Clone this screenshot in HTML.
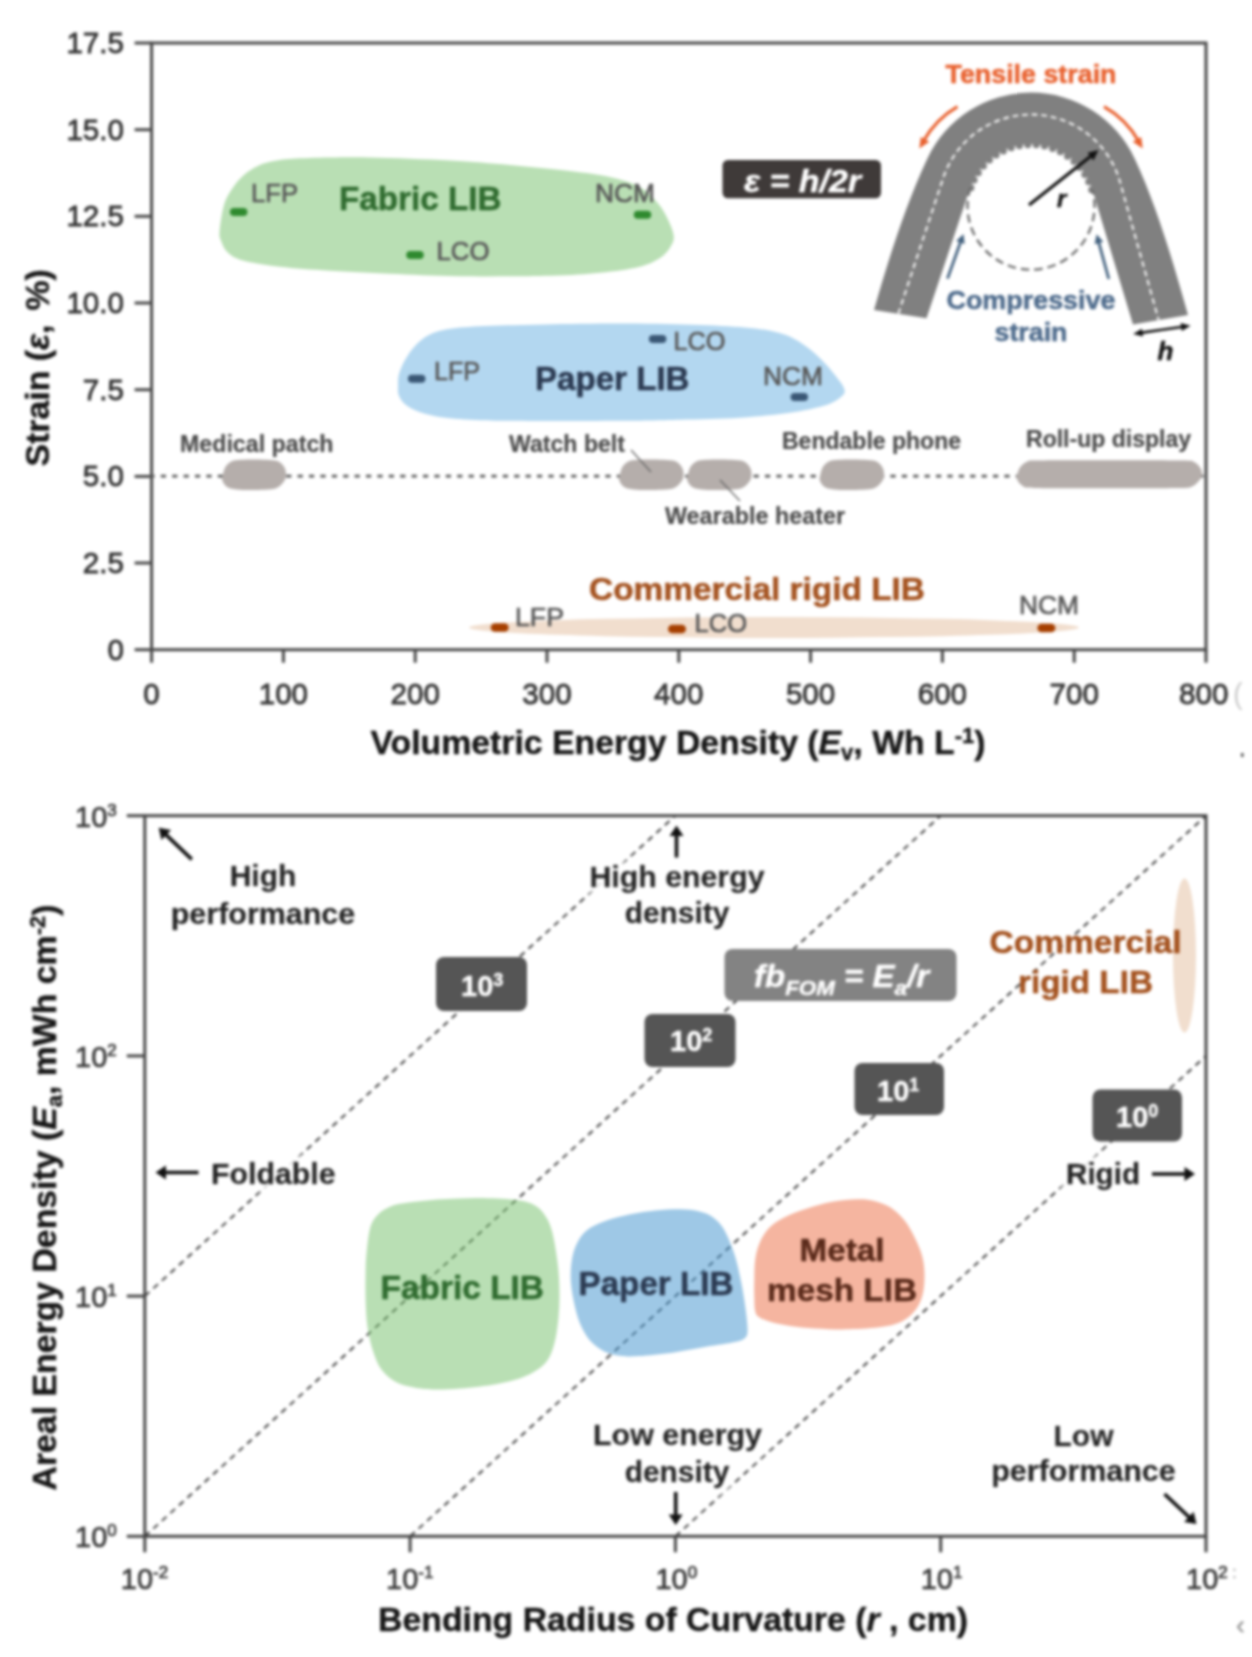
<!DOCTYPE html>
<html><head><meta charset="utf-8"><title>Flexible LIB strain and figure of merit charts</title>
<style>
html,body{margin:0;padding:0;background:#fff;}
body{width:1252px;height:1657px;overflow:hidden;font-family:"Liberation Sans", sans-serif;}
svg{display:block;font-family:"Liberation Sans", sans-serif;filter:blur(1.35px);}
</style></head><body>
<svg width="1252" height="1657" viewBox="0 0 1252 1657">
<defs><filter id="halo" x="-15%" y="-50%" width="130%" height="200%"><feMorphology in="SourceAlpha" operator="dilate" radius="6" result="d"/><feGaussianBlur in="d" stdDeviation="2.5" result="b"/><feFlood flood-color="#fff" flood-opacity="0.85"/><feComposite in2="b" operator="in" result="h"/><feMerge><feMergeNode in="h"/><feMergeNode in="SourceGraphic"/></feMerge></filter></defs>
<rect width="1252" height="1657" fill="#fff"/>
<rect x="151.6" y="43" width="1054.4" height="606.7" fill="none" stroke="#484848" stroke-width="3"/>
<line x1="134.6" y1="43.0" x2="151.6" y2="43.0" stroke="#484848" stroke-width="3"/>
<text x="124" y="53.0" font-size="29.6" font-weight="normal" fill="#333" text-anchor="end" font-style="normal" stroke="#333" stroke-width="0.8">17.5</text>
<line x1="134.6" y1="129.7" x2="151.6" y2="129.7" stroke="#484848" stroke-width="3"/>
<text x="124" y="139.7" font-size="29.6" font-weight="normal" fill="#333" text-anchor="end" font-style="normal" stroke="#333" stroke-width="0.8">15.0</text>
<line x1="134.6" y1="216.3" x2="151.6" y2="216.3" stroke="#484848" stroke-width="3"/>
<text x="124" y="226.3" font-size="29.6" font-weight="normal" fill="#333" text-anchor="end" font-style="normal" stroke="#333" stroke-width="0.8">12.5</text>
<line x1="134.6" y1="303.0" x2="151.6" y2="303.0" stroke="#484848" stroke-width="3"/>
<text x="124" y="313.0" font-size="29.6" font-weight="normal" fill="#333" text-anchor="end" font-style="normal" stroke="#333" stroke-width="0.8">10.0</text>
<line x1="134.6" y1="389.7" x2="151.6" y2="389.7" stroke="#484848" stroke-width="3"/>
<text x="124" y="399.7" font-size="29.6" font-weight="normal" fill="#333" text-anchor="end" font-style="normal" stroke="#333" stroke-width="0.8">7.5</text>
<line x1="134.6" y1="476.4" x2="151.6" y2="476.4" stroke="#484848" stroke-width="3"/>
<text x="124" y="486.4" font-size="29.6" font-weight="normal" fill="#333" text-anchor="end" font-style="normal" stroke="#333" stroke-width="0.8">5.0</text>
<line x1="134.6" y1="563.0" x2="151.6" y2="563.0" stroke="#484848" stroke-width="3"/>
<text x="124" y="573.0" font-size="29.6" font-weight="normal" fill="#333" text-anchor="end" font-style="normal" stroke="#333" stroke-width="0.8">2.5</text>
<line x1="134.6" y1="649.7" x2="151.6" y2="649.7" stroke="#484848" stroke-width="3"/>
<text x="124" y="659.7" font-size="29.6" font-weight="normal" fill="#333" text-anchor="end" font-style="normal" stroke="#333" stroke-width="0.8">0</text>
<line x1="151.6" y1="649.7" x2="151.6" y2="662.7" stroke="#484848" stroke-width="3"/>
<text x="151.6" y="703.8" font-size="29.6" font-weight="normal" fill="#333" text-anchor="middle" font-style="normal" stroke="#333" stroke-width="0.8">0</text>
<line x1="283.4" y1="649.7" x2="283.4" y2="662.7" stroke="#484848" stroke-width="3"/>
<text x="283.4" y="703.8" font-size="29.6" font-weight="normal" fill="#333" text-anchor="middle" font-style="normal" stroke="#333" stroke-width="0.8">100</text>
<line x1="415.2" y1="649.7" x2="415.2" y2="662.7" stroke="#484848" stroke-width="3"/>
<text x="415.2" y="703.8" font-size="29.6" font-weight="normal" fill="#333" text-anchor="middle" font-style="normal" stroke="#333" stroke-width="0.8">200</text>
<line x1="547.0" y1="649.7" x2="547.0" y2="662.7" stroke="#484848" stroke-width="3"/>
<text x="547.0" y="703.8" font-size="29.6" font-weight="normal" fill="#333" text-anchor="middle" font-style="normal" stroke="#333" stroke-width="0.8">300</text>
<line x1="678.8" y1="649.7" x2="678.8" y2="662.7" stroke="#484848" stroke-width="3"/>
<text x="678.8" y="703.8" font-size="29.6" font-weight="normal" fill="#333" text-anchor="middle" font-style="normal" stroke="#333" stroke-width="0.8">400</text>
<line x1="810.6" y1="649.7" x2="810.6" y2="662.7" stroke="#484848" stroke-width="3"/>
<text x="810.6" y="703.8" font-size="29.6" font-weight="normal" fill="#333" text-anchor="middle" font-style="normal" stroke="#333" stroke-width="0.8">500</text>
<line x1="942.4" y1="649.7" x2="942.4" y2="662.7" stroke="#484848" stroke-width="3"/>
<text x="942.4" y="703.8" font-size="29.6" font-weight="normal" fill="#333" text-anchor="middle" font-style="normal" stroke="#333" stroke-width="0.8">600</text>
<line x1="1074.2" y1="649.7" x2="1074.2" y2="662.7" stroke="#484848" stroke-width="3"/>
<text x="1074.2" y="703.8" font-size="29.6" font-weight="normal" fill="#333" text-anchor="middle" font-style="normal" stroke="#333" stroke-width="0.8">700</text>
<line x1="1206.0" y1="649.7" x2="1206.0" y2="662.7" stroke="#484848" stroke-width="3"/>
<text x="1179" y="703.8" font-size="29.6" font-weight="normal" fill="#333" text-anchor="start" font-style="normal" textLength="49.5" lengthAdjust="spacingAndGlyphs" stroke="#333" stroke-width="0.8">800</text>
<text x="1233" y="703.5" font-size="29" font-weight="normal" fill="#ccc" text-anchor="start" font-style="normal" stroke="none">(</text>
<line x1="149.4" y1="476.2" x2="1206" y2="476.2" stroke="#585858" stroke-width="2.8" stroke-dasharray="5.2 6.2"/>
<text transform="translate(49.3,466.5) rotate(-90)" font-size="33.8" font-weight="bold" fill="#161616" stroke="#161616" stroke-width="0.4" >Strain (<tspan font-style="italic">ε</tspan>, <tspan dx="4.5">%)</tspan></text>
<text x="370.5" y="753.5" font-size="33.8" font-weight="bold" fill="#161616" stroke="#161616" stroke-width="0.4" textLength="615" lengthAdjust="spacingAndGlyphs">Volumetric Energy Density (<tspan font-style="italic">E</tspan><tspan font-size="22" dy="6">v</tspan><tspan dy="-6">, Wh L</tspan><tspan font-size="22" dy="-11">-1</tspan><tspan dy="11">)</tspan></text>
<path d="M219.6,230.9 C220.1,224.9 221.9,211.9 224.0,204.9 C226.1,197.9 228.7,193.9 232.0,188.9 C235.3,183.9 239.2,179.0 243.9,175.0 C248.6,171.0 253.9,167.5 259.9,165.0 C265.9,162.5 271.6,161.2 279.9,160.0 C288.2,158.8 294.8,158.4 309.8,158.0 C324.8,157.6 346.3,157.0 369.7,157.4 C393.1,157.8 426.6,159.2 450.0,160.5 C473.4,161.8 489.9,163.2 509.9,165.0 C529.9,166.8 553.2,169.0 569.8,171.0 C586.4,173.0 598.1,174.3 609.7,177.0 C621.4,179.7 631.7,182.6 639.7,186.9 C647.7,191.2 653.0,197.6 657.7,202.9 C662.4,208.2 665.1,213.6 667.7,218.9 C670.4,224.2 673.0,230.6 673.6,234.9 C674.2,239.2 673.6,241.2 671.6,244.8 C669.6,248.5 667.0,253.1 661.7,256.8 C656.4,260.5 650.0,264.1 639.7,266.8 C629.4,269.5 614.8,271.3 599.8,272.8 C584.8,274.3 573.2,275.2 549.8,275.8 C526.4,276.4 486.3,276.6 459.6,276.3 C432.9,276.0 411.3,274.7 389.7,273.8 C368.1,272.9 348.1,272.0 329.8,270.8 C311.5,269.6 294.2,268.5 279.9,266.8 C265.6,265.1 252.6,263.1 243.9,260.8 C235.2,258.5 231.8,256.1 228.0,252.8 C224.2,249.5 222.4,244.5 221.0,240.8 C219.6,237.2 219.1,236.9 219.6,230.9 Z" fill="#b9dfb4"/>
<rect x="229.95" y="207.9" width="17.5" height="8" rx="4.0" fill="#2f8a2f"/>
<rect x="406.25" y="251.0" width="17.5" height="8" rx="4.0" fill="#2f8a2f"/>
<rect x="633.75" y="210.7" width="17.5" height="8" rx="4.0" fill="#2f8a2f"/>
<text x="251" y="202" font-size="26" font-weight="normal" fill="#585858" text-anchor="start" font-style="normal" textLength="47" lengthAdjust="spacingAndGlyphs" stroke="#585858" stroke-width="0.7">LFP</text>
<text x="436.5" y="260" font-size="26" font-weight="normal" fill="#585858" text-anchor="start" font-style="normal" textLength="53" lengthAdjust="spacingAndGlyphs" stroke="#585858" stroke-width="0.7">LCO</text>
<text x="595" y="202" font-size="26" font-weight="normal" fill="#585858" text-anchor="start" font-style="normal" textLength="60" lengthAdjust="spacingAndGlyphs" stroke="#585858" stroke-width="0.7">NCM</text>
<text x="339" y="210" font-size="33" font-weight="bold" fill="#2f6b2f" text-anchor="start" font-style="normal" stroke="#2f6b2f" stroke-width="0.5" textLength="162.5" lengthAdjust="spacingAndGlyphs" >Fabric LIB</text>
<path d="M398.0,385.9 C398.0,382.2 397.8,378.2 399.0,373.9 C400.2,369.6 402.3,364.6 405.0,359.9 C407.7,355.2 411.0,350.0 415.0,345.9 C419.0,341.8 423.2,337.8 428.9,335.0 C434.5,332.2 439.6,330.5 448.9,329.0 C458.2,327.5 468.8,326.8 484.8,326.0 C500.8,325.2 521.0,324.8 544.7,324.4 C568.4,324.0 601.1,323.5 627.0,323.6 C652.9,323.7 679.4,324.3 699.9,325.0 C720.4,325.7 736.5,326.7 749.8,328.0 C763.1,329.3 771.4,330.7 779.7,333.0 C788.0,335.3 793.0,337.9 799.7,342.0 C806.4,346.1 813.7,352.2 819.7,357.9 C825.7,363.5 831.6,370.6 835.7,375.9 C839.9,381.2 843.9,386.2 844.6,389.9 C845.3,393.6 843.2,395.2 839.7,397.9 C836.2,400.5 832.0,403.3 823.7,405.8 C815.4,408.3 803.7,410.8 789.7,412.8 C775.7,414.8 758.1,416.6 739.8,417.8 C721.5,419.0 698.7,419.3 679.9,419.8 C661.1,420.3 656.2,420.6 627.0,420.8 C597.8,421.0 533.5,421.1 504.8,420.8 C476.1,420.5 468.2,420.0 454.9,418.8 C441.6,417.6 432.9,416.0 424.9,413.8 C416.9,411.6 411.3,408.8 407.0,405.8 C402.7,402.8 400.5,399.2 399.0,395.9 C397.5,392.6 398.0,389.6 398.0,385.9 Z" fill="#b3d7f0"/>
<rect x="407.95" y="374.7" width="17.5" height="8" rx="4.0" fill="#3a5775"/>
<rect x="648.85" y="335.0" width="17.5" height="8" rx="4.0" fill="#3a5775"/>
<rect x="790.55" y="393.0" width="17.5" height="8" rx="4.0" fill="#3a5775"/>
<text x="434" y="380" font-size="26" font-weight="normal" fill="#585858" text-anchor="start" font-style="normal" textLength="46" lengthAdjust="spacingAndGlyphs" stroke="#585858" stroke-width="0.7">LFP</text>
<text x="673.5" y="350" font-size="26" font-weight="normal" fill="#585858" text-anchor="start" font-style="normal" textLength="52" lengthAdjust="spacingAndGlyphs" stroke="#585858" stroke-width="0.7">LCO</text>
<text x="763" y="385" font-size="26" font-weight="normal" fill="#585858" text-anchor="start" font-style="normal" textLength="60" lengthAdjust="spacingAndGlyphs" stroke="#585858" stroke-width="0.7">NCM</text>
<text x="535" y="390" font-size="33" font-weight="bold" fill="#2b3a52" text-anchor="start" font-style="normal" stroke="#2b3a52" stroke-width="0.5" textLength="154.5" lengthAdjust="spacingAndGlyphs" >Paper LIB</text>
<path d="M233.0,460.7 C236.0,459.6 240.5,459.9 244.0,459.7 C247.5,459.5 250.3,459.5 254.0,459.5 C257.7,459.5 262.0,459.5 266.0,459.8 C270.0,460.1 274.9,460.0 278.0,461.3 C281.1,462.6 283.2,465.2 284.5,467.5 C285.8,469.8 286.2,472.9 286.0,475.4 C285.8,477.8 285.2,479.9 283.5,482.0 C281.8,484.1 279.6,486.9 276.0,488.2 C272.4,489.5 265.7,489.5 262.0,489.8 C258.3,490.1 257.7,490.0 254.0,490.0 C250.3,490.0 244.3,490.1 240.0,489.7 C235.7,489.3 230.9,488.9 228.0,487.5 C225.1,486.1 223.4,483.1 222.5,481.0 C221.6,478.9 222.2,477.2 222.8,474.8 C223.4,472.2 224.3,468.3 226.0,466.0 C227.7,463.7 230.0,461.8 233.0,460.7 Z" fill="#b5aeab"/>
<path d="M630.0,460.7 C633.0,459.6 637.5,459.9 641.0,459.7 C644.5,459.5 647.5,459.5 651.2,459.5 C655.0,459.5 659.5,459.5 663.5,459.8 C667.5,460.1 672.4,460.0 675.5,461.3 C678.6,462.6 680.7,465.2 682.0,467.5 C683.3,469.8 683.7,472.9 683.5,475.4 C683.3,477.8 682.7,479.9 681.0,482.0 C679.3,484.1 677.1,486.9 673.5,488.2 C669.9,489.5 663.2,489.5 659.5,489.8 C655.8,490.1 655.0,490.0 651.2,490.0 C647.5,490.0 641.4,490.1 637.0,489.7 C632.6,489.3 627.9,488.9 625.0,487.5 C622.1,486.1 620.4,483.1 619.5,481.0 C618.6,478.9 619.2,477.2 619.8,474.8 C620.4,472.2 621.3,468.3 623.0,466.0 C624.7,463.7 627.0,461.8 630.0,460.7 Z" fill="#b5aeab"/>
<path d="M698.0,460.7 C701.0,459.6 705.5,459.9 709.0,459.7 C712.5,459.5 715.5,459.5 719.2,459.5 C723.0,459.5 727.5,459.5 731.5,459.8 C735.5,460.1 740.4,460.0 743.5,461.3 C746.6,462.6 748.7,465.2 750.0,467.5 C751.3,469.8 751.7,472.9 751.5,475.4 C751.3,477.8 750.7,479.9 749.0,482.0 C747.3,484.1 745.1,486.9 741.5,488.2 C737.9,489.5 731.2,489.5 727.5,489.8 C723.8,490.1 723.0,490.0 719.2,490.0 C715.5,490.0 709.4,490.1 705.0,489.7 C700.6,489.3 695.9,488.9 693.0,487.5 C690.1,486.1 688.4,483.1 687.5,481.0 C686.6,478.9 687.2,477.2 687.8,474.8 C688.4,472.2 689.3,468.3 691.0,466.0 C692.7,463.7 695.0,461.8 698.0,460.7 Z" fill="#b5aeab"/>
<path d="M830.5,460.7 C833.5,459.6 838.0,459.9 841.5,459.7 C845.0,459.5 848.0,459.5 851.8,459.5 C855.5,459.5 860.0,459.5 864.0,459.8 C868.0,460.1 872.9,460.0 876.0,461.3 C879.1,462.6 881.2,465.2 882.5,467.5 C883.8,469.8 884.2,472.9 884.0,475.4 C883.8,477.8 883.2,479.9 881.5,482.0 C879.8,484.1 877.6,486.9 874.0,488.2 C870.4,489.5 863.7,489.5 860.0,489.8 C856.3,490.1 855.5,490.0 851.8,490.0 C848.0,490.0 841.9,490.1 837.5,489.7 C833.1,489.3 828.4,488.9 825.5,487.5 C822.6,486.1 820.9,483.1 820.0,481.0 C819.1,478.9 819.7,477.2 820.3,474.8 C820.9,472.2 821.8,468.3 823.5,466.0 C825.2,463.7 827.5,461.8 830.5,460.7 Z" fill="#b5aeab"/>
<path d="M1027.5,461.5 C1030.5,460.4 1024.9,460.7 1038.5,460.5 C1052.1,460.3 1085.3,460.3 1109.2,460.3 C1133.2,460.3 1167.9,460.3 1182.0,460.6 C1196.1,460.9 1190.9,460.8 1194.0,462.1 C1197.1,463.4 1199.2,466.2 1200.5,468.3 C1201.8,470.4 1202.2,472.8 1202.0,474.8 C1201.8,476.8 1201.2,478.3 1199.5,480.2 C1197.8,482.1 1195.6,485.1 1192.0,486.4 C1188.4,487.7 1191.8,487.7 1178.0,488.0 C1164.2,488.3 1133.2,488.2 1109.2,488.2 C1085.3,488.2 1049.0,488.3 1034.5,487.9 C1020.0,487.5 1025.4,487.1 1022.5,485.7 C1019.6,484.2 1017.9,481.1 1017.0,479.2 C1016.1,477.3 1016.7,476.3 1017.3,474.2 C1017.9,472.2 1018.8,468.9 1020.5,466.8 C1022.2,464.7 1024.5,462.6 1027.5,461.5 Z" fill="#b5aeab"/>
<text x="180" y="451.5" font-size="23" font-weight="bold" fill="#4a4a4a" text-anchor="start" font-style="normal" textLength="153.5" lengthAdjust="spacingAndGlyphs" stroke="#4a4a4a" stroke-width="0.2">Medical patch</text>
<text x="509" y="451.5" font-size="23" font-weight="bold" fill="#4a4a4a" text-anchor="start" font-style="normal" textLength="116" lengthAdjust="spacingAndGlyphs" stroke="#4a4a4a" stroke-width="0.2">Watch belt</text>
<text x="782" y="448.5" font-size="23" font-weight="bold" fill="#4a4a4a" text-anchor="start" font-style="normal" textLength="179" lengthAdjust="spacingAndGlyphs" stroke="#4a4a4a" stroke-width="0.2">Bendable phone</text>
<text x="1026" y="447" font-size="23" font-weight="bold" fill="#4a4a4a" text-anchor="start" font-style="normal" textLength="165" lengthAdjust="spacingAndGlyphs" stroke="#4a4a4a" stroke-width="0.2">Roll-up display</text>
<text x="665" y="524" font-size="23" font-weight="bold" fill="#4a4a4a" text-anchor="start" font-style="normal" textLength="180" lengthAdjust="spacingAndGlyphs" stroke="#4a4a4a" stroke-width="0.2">Wearable heater</text>
<line x1="631" y1="450" x2="651" y2="472" stroke="#666" stroke-width="1.3"/>
<line x1="720" y1="480" x2="740" y2="501" stroke="#666" stroke-width="1.3"/>
<ellipse cx="774" cy="627.5" rx="305" ry="10.4" fill="#f1dece"/>
<rect x="490.7" y="623.25" width="18" height="8.5" rx="4.25" fill="#a63f00"/>
<rect x="668.0" y="624.75" width="18" height="8.5" rx="4.25" fill="#a63f00"/>
<rect x="1037.4" y="623.85" width="18" height="8.5" rx="4.25" fill="#a63f00"/>
<text x="515" y="626" font-size="26" font-weight="normal" fill="#585858" text-anchor="start" font-style="normal" textLength="49" lengthAdjust="spacingAndGlyphs" stroke="#585858" stroke-width="0.7">LFP</text>
<text x="694.5" y="632" font-size="26" font-weight="normal" fill="#585858" text-anchor="start" font-style="normal" textLength="52.5" lengthAdjust="spacingAndGlyphs" stroke="#585858" stroke-width="0.7">LCO</text>
<text x="1019" y="614" font-size="26" font-weight="normal" fill="#585858" text-anchor="start" font-style="normal" textLength="60" lengthAdjust="spacingAndGlyphs" stroke="#585858" stroke-width="0.7">NCM</text>
<text x="589" y="600" font-size="32" font-weight="bold" fill="#a4521f" text-anchor="start" font-style="normal" stroke="#a4521f" stroke-width="0.5" textLength="336" lengthAdjust="spacingAndGlyphs" >Commercial rigid LIB</text>
<rect x="722.5" y="160" width="158.5" height="38.3" rx="5.5" fill="#3f3a39"/>
<text x="802.5" y="191.5" font-size="32" font-weight="bold" font-style="italic" fill="#fff" stroke="#fff" stroke-width="0.4" text-anchor="middle" textLength="117" lengthAdjust="spacingAndGlyphs">ε = h/2r</text>
<path d="M874,310 C888.6,259.1 904.9,206.7 927.3,158.7 A114.4,114.4 0 0 1 1134.7,158.7 C1157.1,206.7 1173.7,264.0 1188,315 L1133,324.4 L1092.3,189.5 A64,64 0 0 0 970.3,187.6 L926.5,318.2 Z" fill="#808080"/>
<circle cx="970.9" cy="187.8" r="3.5" fill="#808080"/>
<circle cx="974.1" cy="180.0" r="3.5" fill="#808080"/>
<circle cx="978.3" cy="172.7" r="3.5" fill="#808080"/>
<circle cx="983.4" cy="166.1" r="3.5" fill="#808080"/>
<circle cx="989.4" cy="160.1" r="3.5" fill="#808080"/>
<circle cx="996.1" cy="155.1" r="3.5" fill="#808080"/>
<circle cx="1003.4" cy="150.9" r="3.5" fill="#808080"/>
<circle cx="1011.2" cy="147.8" r="3.5" fill="#808080"/>
<circle cx="1019.4" cy="145.7" r="3.5" fill="#808080"/>
<circle cx="1027.8" cy="144.7" r="3.5" fill="#808080"/>
<circle cx="1036.2" cy="144.8" r="3.5" fill="#808080"/>
<circle cx="1044.5" cy="146.1" r="3.5" fill="#808080"/>
<circle cx="1052.6" cy="148.4" r="3.5" fill="#808080"/>
<circle cx="1060.3" cy="151.8" r="3.5" fill="#808080"/>
<circle cx="1067.5" cy="156.2" r="3.5" fill="#808080"/>
<circle cx="1074.0" cy="161.4" r="3.5" fill="#808080"/>
<circle cx="1079.8" cy="167.6" r="3.5" fill="#808080"/>
<circle cx="1084.8" cy="174.4" r="3.5" fill="#808080"/>
<circle cx="1088.7" cy="181.8" r="3.5" fill="#808080"/>
<circle cx="1091.7" cy="189.7" r="3.5" fill="#808080"/>
<path d="M970.3,187.6 A63.5,63.5 0 1 0 1092.3,189.5" fill="none" stroke="#6a6a6a" stroke-width="2.3" stroke-dasharray="8.5 5"/>
<path d="M898.3,313.7 L943.2,178.0 A92.5,92.5 0 0 1 1120.1,182.1 L1158.6,319.9" fill="none" stroke="#fff" stroke-width="1.9" stroke-dasharray="5.8 3.8"/>
<line x1="1029" y1="205" x2="1091" y2="156" stroke="#111" stroke-width="3.2"/>
<path d="M1098.5,150 L1087.5,152.8 L1093.5,160.5 Z" fill="#111"/>
<text x="1057" y="207" font-size="24" font-weight="bold" fill="#111" text-anchor="start" font-style="italic" stroke="#111" stroke-width="0.5" >r</text>
<text x="1031" y="83" font-size="26.5" font-weight="bold" fill="#e8612f" text-anchor="middle" font-style="normal" stroke="#e8612f" stroke-width="0.5" textLength="171" lengthAdjust="spacingAndGlyphs" >Tensile strain</text>
<path d="M957.5,106.6 Q936,119 923.5,141" fill="none" stroke="#e8612f" stroke-width="3.2"/>
<path d="M919.3,148.5 L920.8,137 L929.3,141.8 Z" fill="#e8612f"/>
<path d="M1104,106.6 Q1126,119 1138.5,141" fill="none" stroke="#e8612f" stroke-width="3.2"/>
<path d="M1142.7,148.5 L1132.7,141.8 L1141.2,137 Z" fill="#e8612f"/>
<text x="1031" y="308.5" font-size="26.5" font-weight="bold" fill="#4e6b8c" text-anchor="middle" font-style="normal" stroke="#4e6b8c" stroke-width="0.5" textLength="169" lengthAdjust="spacingAndGlyphs" >Compressive</text>
<text x="1031" y="340.5" font-size="26.5" font-weight="bold" fill="#4e6b8c" text-anchor="middle" font-style="normal" stroke="#4e6b8c" stroke-width="0.5" textLength="73" lengthAdjust="spacingAndGlyphs" >strain</text>
<line x1="947.5" y1="278.6" x2="961.1" y2="240.5" stroke="#44627f" stroke-width="2.8"/>
<path d="M963.5,233.9 L964.7,243.9 L956.2,240.9 Z" fill="#44627f"/>
<line x1="1108.8" y1="279.0" x2="1098.4" y2="241.1" stroke="#44627f" stroke-width="2.8"/>
<path d="M1096.6,234.3 L1103.3,241.8 L1094.6,244.2 Z" fill="#44627f"/>
<line x1="1162.0" y1="329.8" x2="1183.2" y2="326.8" stroke="#111" stroke-width="2.6"/>
<path d="M1190.6,325.7 L1181.8,331.0 L1180.6,323.1 Z" fill="#111"/>
<line x1="1162.0" y1="329.8" x2="1140.5" y2="332.9" stroke="#111" stroke-width="2.6"/>
<path d="M1133.1,334.0 L1141.9,328.7 L1143.1,336.6 Z" fill="#111"/>
<text x="1157.5" y="359.5" font-size="26" font-weight="bold" fill="#111" text-anchor="start" font-style="italic" stroke="#111" stroke-width="0.5" >h</text>
<rect x="1241" y="753" width="2.5" height="4" fill="#555"/>
<rect x="144.8" y="815.7" width="1061.2" height="720.5999999999999" fill="none" stroke="#484848" stroke-width="3"/>
<ellipse cx="1184.5" cy="955.5" rx="11.5" ry="77" fill="#f1dece"/>
<line x1="144.8" y1="1296.1" x2="675.4" y2="815.7" stroke="#3c3c3c" stroke-width="1.9" stroke-dasharray="6.3 5.2"/>
<line x1="144.8" y1="1536.3" x2="940.7" y2="815.7" stroke="#3c3c3c" stroke-width="1.9" stroke-dasharray="6.3 5.2"/>
<line x1="410.1" y1="1536.3" x2="1206.0" y2="815.7" stroke="#3c3c3c" stroke-width="1.9" stroke-dasharray="6.3 5.2"/>
<line x1="675.4" y1="1536.3" x2="1206.0" y2="1055.9" stroke="#3c3c3c" stroke-width="1.9" stroke-dasharray="6.3 5.2"/>
<path d="M366.5,1253.5 C367.3,1246.1 368.4,1234.2 370.2,1227.8 C372.0,1221.3 374.2,1218.4 377.6,1214.9 C380.9,1211.4 385.8,1208.6 390.4,1206.6 C395.0,1204.6 396.5,1204.2 405.1,1203.0 C413.7,1201.7 429.6,1200.1 441.9,1199.3 C454.1,1198.5 466.4,1197.9 478.6,1198.0 C490.9,1198.1 506.2,1198.7 515.3,1199.8 C524.5,1201.0 528.8,1202.3 533.7,1204.8 C538.6,1207.3 541.7,1210.5 544.7,1214.9 C547.8,1219.3 550.0,1223.5 552.1,1231.4 C554.2,1239.4 556.4,1252.9 557.6,1262.7 C558.8,1272.5 559.3,1281.0 559.4,1290.2 C559.6,1299.4 559.4,1308.6 558.5,1317.8 C557.6,1327.0 556.2,1337.7 553.9,1345.3 C551.6,1353.0 549.6,1358.5 544.7,1363.7 C539.8,1368.9 532.5,1373.2 524.5,1376.6 C516.6,1380.0 507.7,1381.9 497.0,1383.9 C486.3,1385.9 471.0,1387.6 460.2,1388.5 C449.5,1389.4 440.3,1389.6 432.7,1389.4 C425.0,1389.3 420.4,1388.8 414.3,1387.6 C408.2,1386.4 401.4,1385.2 395.9,1382.1 C390.4,1379.0 385.1,1374.4 381.2,1369.2 C377.4,1364.0 375.3,1357.9 373.0,1350.9 C370.7,1343.8 368.7,1335.6 367.5,1327.0 C366.2,1318.4 365.9,1308.6 365.6,1299.4 C365.3,1290.2 365.5,1279.5 365.6,1271.9 C365.8,1264.2 365.8,1260.8 366.5,1253.5 Z" fill="#7bc371" fill-opacity="0.53"/>
<path d="M570.9,1282.3 C570.4,1274.4 570.8,1266.9 571.8,1260.4 C572.8,1254.0 574.3,1248.7 576.8,1243.7 C579.3,1238.6 582.1,1234.0 586.9,1230.3 C591.6,1226.5 598.1,1223.7 605.3,1221.0 C612.6,1218.4 622.1,1216.1 630.5,1214.3 C638.9,1212.6 647.3,1211.3 655.6,1210.5 C664.0,1209.6 673.8,1209.2 680.8,1209.3 C687.8,1209.4 692.5,1209.8 697.6,1211.0 C702.6,1212.1 707.1,1213.6 711.0,1216.0 C714.9,1218.4 718.3,1221.7 721.1,1225.2 C723.8,1228.7 725.4,1231.7 727.8,1237.0 C730.1,1242.3 733.1,1249.5 735.3,1257.1 C737.5,1264.6 739.5,1273.9 741.2,1282.3 C742.9,1290.6 744.3,1299.6 745.4,1307.4 C746.4,1315.2 747.6,1324.2 747.6,1329.2 C747.6,1334.2 747.3,1335.5 745.4,1337.6 C743.5,1339.7 742.7,1340.3 736.1,1341.8 C729.6,1343.3 716.6,1345.0 706.0,1346.8 C695.3,1348.6 683.6,1351.2 672.4,1352.7 C661.2,1354.2 647.3,1355.5 638.9,1356.1 C630.5,1356.6 627.7,1356.8 622.1,1356.1 C616.5,1355.4 610.4,1354.1 605.3,1351.9 C600.3,1349.6 595.8,1346.7 591.9,1342.6 C588.0,1338.6 584.6,1333.4 581.8,1327.5 C579.0,1321.7 576.9,1315.0 575.1,1307.4 C573.3,1299.9 571.5,1290.1 570.9,1282.3 Z" fill="#4f9bd1" fill-opacity="0.55"/>
<path d="M754.3,1280.6 C754.4,1274.5 754.3,1266.7 755.1,1260.5 C755.9,1254.4 757.1,1249.0 759.3,1243.7 C761.5,1238.4 764.5,1233.0 768.5,1228.6 C772.6,1224.3 777.2,1221.1 783.6,1217.7 C790.0,1214.4 799.0,1211.2 807.1,1208.5 C815.2,1205.9 823.9,1203.3 832.3,1201.8 C840.6,1200.3 850.4,1199.4 857.4,1199.3 C864.4,1199.1 868.6,1199.6 874.2,1201.0 C879.8,1202.4 885.9,1204.5 891.0,1207.7 C896.0,1210.9 900.5,1215.4 904.4,1220.3 C908.3,1225.1 911.5,1231.2 914.4,1237.0 C917.4,1242.9 920.3,1249.3 922.0,1255.5 C923.7,1261.6 924.4,1267.5 924.5,1273.9 C924.6,1280.4 924.2,1288.2 922.8,1294.1 C921.4,1299.9 919.5,1304.7 916.1,1309.2 C912.8,1313.6 908.3,1318.0 902.7,1320.9 C897.1,1323.8 891.5,1325.4 882.6,1326.8 C873.6,1328.2 860.2,1329.0 849.0,1329.3 C837.8,1329.6 825.3,1329.0 815.5,1328.4 C805.7,1327.9 797.9,1327.0 790.3,1325.9 C782.8,1324.8 775.5,1323.3 770.2,1321.7 C764.9,1320.2 761.0,1318.5 758.5,1316.7 C755.9,1314.9 755.8,1314.0 755.1,1310.8 C754.4,1307.6 754.4,1302.4 754.3,1297.4 C754.1,1292.4 754.1,1286.8 754.3,1280.6 Z" fill="#f5b5a0"/>
<line x1="126.80000000000001" y1="1536.3" x2="144.8" y2="1536.3" stroke="#484848" stroke-width="3"/>
<text x="75" y="1547.3" font-size="29" fill="#383838" stroke="#383838" stroke-width="0.7">10<tspan font-size="17" dy="-11">0</tspan></text>
<line x1="126.80000000000001" y1="1296.1" x2="144.8" y2="1296.1" stroke="#484848" stroke-width="3"/>
<text x="75" y="1307.1" font-size="29" fill="#383838" stroke="#383838" stroke-width="0.7">10<tspan font-size="17" dy="-11">1</tspan></text>
<line x1="126.80000000000001" y1="1055.9" x2="144.8" y2="1055.9" stroke="#484848" stroke-width="3"/>
<text x="75" y="1066.9" font-size="29" fill="#383838" stroke="#383838" stroke-width="0.7">10<tspan font-size="17" dy="-11">2</tspan></text>
<line x1="126.80000000000001" y1="815.7" x2="144.8" y2="815.7" stroke="#484848" stroke-width="3"/>
<text x="75" y="826.7" font-size="29" fill="#383838" stroke="#383838" stroke-width="0.7">10<tspan font-size="17" dy="-11">3</tspan></text>
<line x1="144.8" y1="1536.3" x2="144.8" y2="1552.3" stroke="#484848" stroke-width="3"/>
<text x="120.8" y="1589" font-size="29" fill="#383838" stroke="#383838" stroke-width="0.7">10<tspan font-size="17" dy="-11">-2</tspan></text>
<line x1="410.1" y1="1536.3" x2="410.1" y2="1552.3" stroke="#484848" stroke-width="3"/>
<text x="386.1" y="1589" font-size="29" fill="#383838" stroke="#383838" stroke-width="0.7">10<tspan font-size="17" dy="-11">-1</tspan></text>
<line x1="675.4" y1="1536.3" x2="675.4" y2="1552.3" stroke="#484848" stroke-width="3"/>
<text x="655.4" y="1589" font-size="29" fill="#383838" stroke="#383838" stroke-width="0.7">10<tspan font-size="17" dy="-11">0</tspan></text>
<line x1="940.7" y1="1536.3" x2="940.7" y2="1552.3" stroke="#484848" stroke-width="3"/>
<text x="920.7" y="1589" font-size="29" fill="#383838" stroke="#383838" stroke-width="0.7">10<tspan font-size="17" dy="-11">1</tspan></text>
<line x1="1206.0" y1="1536.3" x2="1206.0" y2="1552.3" stroke="#484848" stroke-width="3"/>
<text x="1186.0" y="1589" font-size="29" fill="#383838" stroke="#383838" stroke-width="0.7">10<tspan font-size="17" dy="-11">2</tspan></text>
<text x="1232" y="1578" font-size="17" font-weight="normal" fill="#bbb" text-anchor="start" font-style="normal" stroke="#bbb" stroke-width="0.5" >:</text>
<text x="1236" y="1634" font-size="26" font-weight="normal" fill="#999" text-anchor="start" font-style="normal" stroke="#999" stroke-width="0.5" >‹</text>
<text transform="translate(55.8,1490.5) rotate(-90)" font-size="33.8" font-weight="bold" fill="#161616" stroke="#161616" stroke-width="0.4" textLength="586" lengthAdjust="spacingAndGlyphs">Areal Energy Density (<tspan font-style="italic">E</tspan><tspan font-size="22" dy="6">a</tspan><tspan dy="-6">, mWh cm</tspan><tspan font-size="22" dy="-11">-2</tspan><tspan dy="11">)</tspan></text>
<text x="378" y="1630.5" font-size="33.8" font-weight="bold" fill="#161616" stroke="#161616" stroke-width="0.4" textLength="590" lengthAdjust="spacingAndGlyphs">Bending Radius of Curvature (<tspan font-style="italic">r</tspan> , cm)</text>
<rect x="436" y="957" width="91" height="54" rx="8" fill="#555"/>
<text x="461" y="995.5" font-size="29" font-weight="bold" fill="#fff" stroke="#fff" stroke-width="0.4">10<tspan font-size="18" dy="-10">3</tspan></text>
<rect x="644.5" y="1014" width="91.0" height="53" rx="8" fill="#555"/>
<text x="670" y="1051" font-size="29" font-weight="bold" fill="#fff" stroke="#fff" stroke-width="0.4">10<tspan font-size="18" dy="-10">2</tspan></text>
<rect x="854.5" y="1063" width="89.5" height="52" rx="8" fill="#555"/>
<text x="877" y="1100.5" font-size="29" font-weight="bold" fill="#fff" stroke="#fff" stroke-width="0.4">10<tspan font-size="18" dy="-10">1</tspan></text>
<rect x="1092.5" y="1089.5" width="89.5" height="52.0" rx="8" fill="#555"/>
<text x="1116" y="1127" font-size="29" font-weight="bold" fill="#fff" stroke="#fff" stroke-width="0.4">10<tspan font-size="18" dy="-10">0</tspan></text>
<rect x="724.5" y="949" width="232" height="52" rx="8" fill="#838383"/>
<text x="754" y="987.3" font-size="31" font-weight="bold" font-style="italic" fill="#fff" stroke="#fff" stroke-width="0.4" textLength="175" lengthAdjust="spacingAndGlyphs">fb<tspan font-size="21" dy="8">FOM</tspan><tspan dy="-8"> = E</tspan><tspan font-size="21" dy="8">a</tspan><tspan dy="-8">/r</tspan></text>
<text x="380.5" y="1298.5" font-size="33" font-weight="bold" fill="#2f6b2f" text-anchor="start" font-style="normal" stroke="#2f6b2f" stroke-width="0.5" textLength="163.5" lengthAdjust="spacingAndGlyphs" >Fabric LIB</text>
<text x="578.5" y="1294.5" font-size="33" font-weight="bold" fill="#2b3a52" text-anchor="start" font-style="normal" stroke="#2b3a52" stroke-width="0.5" textLength="155" lengthAdjust="spacingAndGlyphs" >Paper LIB</text>
<text x="842" y="1260.5" font-size="32" font-weight="bold" fill="#5a2a1a" text-anchor="middle" font-style="normal" stroke="#5a2a1a" stroke-width="0.5" textLength="85" lengthAdjust="spacingAndGlyphs" >Metal</text>
<text x="842" y="1301" font-size="32" font-weight="bold" fill="#5a2a1a" text-anchor="middle" font-style="normal" stroke="#5a2a1a" stroke-width="0.5" textLength="150" lengthAdjust="spacingAndGlyphs" >mesh LIB</text>
<text x="1085.5" y="952.5" font-size="32" font-weight="bold" fill="#a4521f" text-anchor="middle" font-style="normal" stroke="#a4521f" stroke-width="0.5" textLength="192" lengthAdjust="spacingAndGlyphs" >Commercial</text>
<text x="1085.5" y="992.5" font-size="32" font-weight="bold" fill="#a4521f" text-anchor="middle" font-style="normal" stroke="#a4521f" stroke-width="0.5" textLength="135" lengthAdjust="spacingAndGlyphs" >rigid LIB</text>
<text x="263" y="886" font-size="30" font-weight="bold" fill="#222" text-anchor="middle" font-style="normal" stroke="#222" stroke-width="0.5" textLength="66.5" lengthAdjust="spacingAndGlyphs" filter="url(#halo)">High</text>
<text x="263" y="923.5" font-size="30" font-weight="bold" fill="#222" text-anchor="middle" font-style="normal" stroke="#222" stroke-width="0.5" textLength="184.5" lengthAdjust="spacingAndGlyphs" filter="url(#halo)">performance</text>
<text x="677" y="887" font-size="30" font-weight="bold" fill="#222" text-anchor="middle" font-style="normal" stroke="#222" stroke-width="0.5" textLength="175" lengthAdjust="spacingAndGlyphs" filter="url(#halo)">High energy</text>
<text x="677" y="923" font-size="30" font-weight="bold" fill="#222" text-anchor="middle" font-style="normal" stroke="#222" stroke-width="0.5" textLength="104.5" lengthAdjust="spacingAndGlyphs" filter="url(#halo)">density</text>
<text x="211" y="1184" font-size="30" font-weight="bold" fill="#222" text-anchor="start" font-style="normal" stroke="#222" stroke-width="0.5" textLength="124.5" lengthAdjust="spacingAndGlyphs" filter="url(#halo)">Foldable</text>
<text x="1066" y="1184" font-size="30" font-weight="bold" fill="#222" text-anchor="start" font-style="normal" stroke="#222" stroke-width="0.5" textLength="74" lengthAdjust="spacingAndGlyphs" filter="url(#halo)">Rigid</text>
<text x="677.5" y="1444.5" font-size="30" font-weight="bold" fill="#222" text-anchor="middle" font-style="normal" stroke="#222" stroke-width="0.5" textLength="169" lengthAdjust="spacingAndGlyphs" filter="url(#halo)">Low energy</text>
<text x="677" y="1481.5" font-size="30" font-weight="bold" fill="#222" text-anchor="middle" font-style="normal" stroke="#222" stroke-width="0.5" textLength="104.5" lengthAdjust="spacingAndGlyphs" filter="url(#halo)">density</text>
<text x="1083.5" y="1446" font-size="30" font-weight="bold" fill="#222" text-anchor="middle" font-style="normal" stroke="#222" stroke-width="0.5" textLength="60" lengthAdjust="spacingAndGlyphs" filter="url(#halo)">Low</text>
<text x="1083.5" y="1481" font-size="30" font-weight="bold" fill="#222" text-anchor="middle" font-style="normal" stroke="#222" stroke-width="0.5" textLength="184.5" lengthAdjust="spacingAndGlyphs" filter="url(#halo)">performance</text>
<line x1="191.8" y1="859.4" x2="164.8" y2="833.6" stroke="#111" stroke-width="3.6"/>
<path d="M158.7,827.7 L171.1,829.9 L161.4,840.0 Z" fill="#111"/>
<line x1="676.5" y1="857.5" x2="676.5" y2="834.0" stroke="#111" stroke-width="3.6"/>
<path d="M676.5,825.5 L683.5,836.0 L669.5,836.0 Z" fill="#111"/>
<line x1="198.5" y1="1172.5" x2="164.0" y2="1172.5" stroke="#111" stroke-width="3.6"/>
<path d="M155.5,1172.5 L166.0,1165.5 L166.0,1179.5 Z" fill="#111"/>
<line x1="1152.0" y1="1174.0" x2="1186.5" y2="1174.0" stroke="#111" stroke-width="3.6"/>
<path d="M1195.0,1174.0 L1184.5,1181.0 L1184.5,1167.0 Z" fill="#111"/>
<line x1="675.7" y1="1492.0" x2="675.7" y2="1516.5" stroke="#111" stroke-width="3.6"/>
<path d="M675.7,1525.0 L668.7,1514.5 L682.7,1514.5 Z" fill="#111"/>
<line x1="1164.5" y1="1494.0" x2="1190.3" y2="1518.2" stroke="#111" stroke-width="3.6"/>
<path d="M1196.5,1524.0 L1184.1,1521.9 L1193.6,1511.7 Z" fill="#111"/>
</svg>
</body></html>
